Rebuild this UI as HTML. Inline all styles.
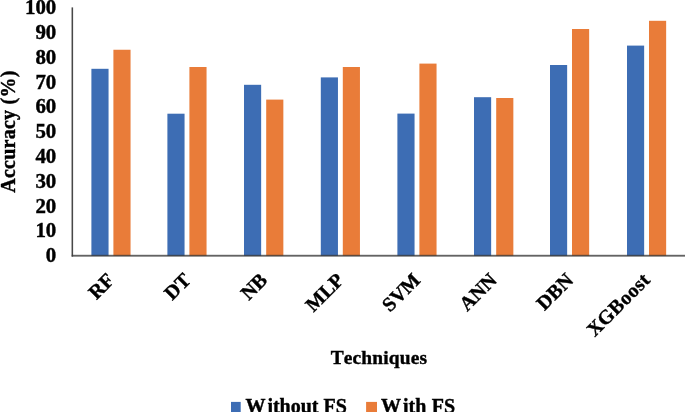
<!DOCTYPE html>
<html lang="en"><head><meta charset="utf-8"><title>Accuracy chart</title>
<style>
html,body{margin:0;padding:0;background:#fff;}
body{width:685px;height:412px;overflow:hidden;}
svg{display:block;}
text{font-family:"Liberation Serif","Times New Roman",serif;font-weight:bold;font-size:20px;font-kerning:none;fill:#000;stroke:#000;stroke-width:0.4px;}
</style></head>
<body>
<svg width="685" height="412" viewBox="0 0 685 412">
<rect width="685" height="412" fill="#fff"/>
<rect x="91.40" y="68.80" width="17.15" height="187.20" fill="#3d6db4"/>
<rect x="113.40" y="49.75" width="17.15" height="206.25" fill="#e97c39"/>
<rect x="167.40" y="113.70" width="17.15" height="142.30" fill="#3d6db4"/>
<rect x="189.40" y="67.00" width="17.15" height="189.00" fill="#e97c39"/>
<rect x="244.00" y="84.80" width="17.15" height="171.20" fill="#3d6db4"/>
<rect x="266.20" y="99.60" width="17.15" height="156.40" fill="#e97c39"/>
<rect x="320.80" y="77.40" width="17.15" height="178.60" fill="#3d6db4"/>
<rect x="342.80" y="67.00" width="17.15" height="189.00" fill="#e97c39"/>
<rect x="397.40" y="113.60" width="17.15" height="142.40" fill="#3d6db4"/>
<rect x="419.40" y="63.60" width="17.15" height="192.40" fill="#e97c39"/>
<rect x="474.00" y="97.20" width="17.15" height="158.80" fill="#3d6db4"/>
<rect x="496.20" y="98.00" width="17.15" height="158.00" fill="#e97c39"/>
<rect x="550.00" y="65.00" width="17.15" height="191.00" fill="#3d6db4"/>
<rect x="572.00" y="29.00" width="17.15" height="227.00" fill="#e97c39"/>
<rect x="627.00" y="45.60" width="17.15" height="210.40" fill="#3d6db4"/>
<rect x="649.00" y="20.80" width="17.15" height="235.20" fill="#e97c39"/>
<rect x="71.55" y="7.4" width="1.55" height="249.2" fill="#484848"/>
<rect x="71.7" y="254.8" width="613.3" height="1.85" fill="#3c3c3c" fill-opacity="0.8"/>
<text x="45.85" y="262.10" textLength="10.45" lengthAdjust="spacingAndGlyphs">0</text>
<text x="35.40" y="237.30" textLength="20.90" lengthAdjust="spacingAndGlyphs">10</text>
<text x="35.40" y="212.50" textLength="20.90" lengthAdjust="spacingAndGlyphs">20</text>
<text x="35.40" y="187.70" textLength="20.90" lengthAdjust="spacingAndGlyphs">30</text>
<text x="35.40" y="162.90" textLength="20.90" lengthAdjust="spacingAndGlyphs">40</text>
<text x="35.40" y="138.10" textLength="20.90" lengthAdjust="spacingAndGlyphs">50</text>
<text x="35.40" y="113.30" textLength="20.90" lengthAdjust="spacingAndGlyphs">60</text>
<text x="35.40" y="88.50" textLength="20.90" lengthAdjust="spacingAndGlyphs">70</text>
<text x="35.40" y="63.70" textLength="20.90" lengthAdjust="spacingAndGlyphs">80</text>
<text x="35.40" y="38.90" textLength="20.90" lengthAdjust="spacingAndGlyphs">90</text>
<text x="24.95" y="14.10" textLength="31.35" lengthAdjust="spacingAndGlyphs">100</text>
<text transform="translate(14.6,192.8) rotate(-90)" textLength="122.2">Accuracy (%)</text>
<text transform="translate(115.45,281.3) rotate(-45)" text-anchor="end">RF</text>
<text transform="translate(191.95,281.3) rotate(-45)" text-anchor="end">DT</text>
<text transform="translate(268.45,281.3) rotate(-45)" text-anchor="end">NB</text>
<text transform="translate(344.95,281.3) rotate(-45)" text-anchor="end">MLP</text>
<text transform="translate(421.45,281.3) rotate(-45)" text-anchor="end">SVM</text>
<text transform="translate(497.95,281.3) rotate(-45)" text-anchor="end">ANN</text>
<text transform="translate(574.45,281.3) rotate(-45)" text-anchor="end">DBN</text>
<text transform="translate(650.95,281.3) rotate(-45)" text-anchor="end" textLength="79.6">XGBoost</text>
<text x="330.7" y="364.3" textLength="96.3" style="font-size:19.4px">Techniques</text>
<rect x="231.0" y="401.9" width="9.7" height="11" fill="#3d6db4"/>
<text x="245.5" y="412.7" dx="0 1.9">Without FS</text>
<rect x="366.1" y="401.9" width="10.9" height="11" fill="#e97c39"/>
<text x="380.9" y="412.7" dx="0 2.1 0 0 0.4">With FS</text>
</svg>
</body></html>
